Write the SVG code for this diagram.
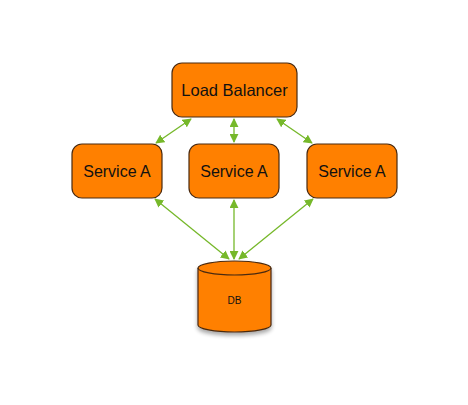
<svg xmlns="http://www.w3.org/2000/svg" width="468" height="405" viewBox="0 0 468 405">
<style>
.box{fill:#ff8000;stroke:#4a2a10;stroke-width:1.2}
.lbl{font-family:"Liberation Sans",Arial,sans-serif;fill:#111;text-anchor:middle}
.con{stroke:#76b82a;stroke-width:1.3;fill:none;marker-start:url(#ah);marker-end:url(#ah)}
</style>
<defs>
<marker id="ah" viewBox="0 0 10 10" refX="9" refY="5" markerWidth="9" markerHeight="9" markerUnits="userSpaceOnUse" orient="auto-start-reverse">
<path d="M0,0 L10,5 L0,10 Z" fill="#76b82a"/>
</marker>
<filter id="sh" x="-20%" y="-20%" width="140%" height="150%">
<feGaussianBlur in="SourceAlpha" stdDeviation="2"/>
<feOffset dx="0" dy="3" result="b"/>
<feComponentTransfer><feFuncA type="linear" slope="0.35"/></feComponentTransfer>
<feMerge><feMergeNode/><feMergeNode in="SourceGraphic"/></feMerge>
</filter>
</defs>
<rect width="468" height="405" fill="#fff"/>
<g id="connectors">
<line class="con" x1="191" y1="119" x2="156" y2="143"/>
<line class="con" x1="234" y1="119" x2="234" y2="142"/>
<line class="con" x1="277" y1="119" x2="312" y2="143"/>
<line class="con" x1="155" y1="199" x2="229" y2="259"/>
<line class="con" x1="234" y1="200" x2="234" y2="259"/>
<line class="con" x1="313" y1="199" x2="239" y2="259"/>
</g>
<g id="lb">
<rect class="box" x="172" y="63" width="125" height="54" rx="10"/>
<text class="lbl" x="234.5" y="96" font-size="16.5">Load Balancer</text>
</g>
<g id="svcA1">
<rect class="box" x="72" y="144" width="90" height="54" rx="10"/>
<text class="lbl" x="117" y="177" font-size="16">Service A</text>
</g>
<g id="svcA2">
<rect class="box" x="189" y="144" width="90" height="54" rx="10"/>
<text class="lbl" x="234" y="177" font-size="16">Service A</text>
</g>
<g id="svcA3">
<rect class="box" x="307" y="144" width="90" height="54" rx="10"/>
<text class="lbl" x="352" y="177" font-size="16">Service A</text>
</g>
<g id="db">
<path class="box" filter="url(#sh)" d="M198,268 A36.5,7 0 0 1 271,268 L271,325 A36.5,7 0 0 1 198,325 Z"/>
<path d="M198,268 A36.5,7 0 0 0 271,268" fill="none" stroke="#4a2a10" stroke-width="1.2"/>
<text class="lbl" x="234.5" y="304" font-size="10">DB</text>
</g>
</svg>
